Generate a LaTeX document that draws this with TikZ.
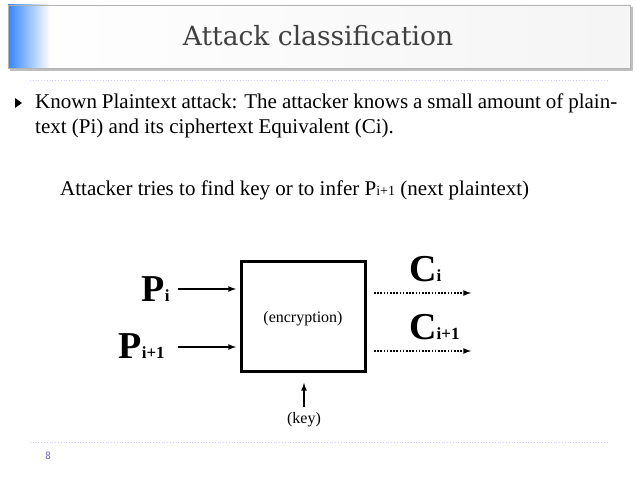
\documentclass[tikz,border=0pt]{standalone}
\usepackage{fontspec}
\setmainfont{Liberation Serif}
\newfontfamily\ttlfont{DejaVu Serif}
\begin{document}
\begin{tikzpicture}[x=1pt,y=-1pt,
  big/.style={font=\fontsize{38}{38}\selectfont\bfseries,inner sep=0},
  body/.style={font=\fontsize{21}{25}\selectfont,anchor=base west,inner sep=0},
  arr/.style={-latex,line width=1.6pt},
  darr/.style={-latex,line width=1.6pt,dash pattern=on 1.6pt off 1.6pt}]
\useasboundingbox (0,0) rectangle (638,478);
\fill[black!25] (10,7) rectangle (633,71);
\shade[left color=white,right color=black!4] (8,5) rectangle (630,68);
\shade[left color=blue!60!cyan!80,right color=white] (8,5) rectangle (50,68);
\draw[black!30] (8,5) rectangle (630,68);
\node[font=\ttlfont\fontsize{26.5}{27}\selectfont,text=black!75] (title) at (318,36) {Attack classification};
\draw[blue!20,dotted,line width=0.8pt] (30,80) -- (608,80);
\draw[blue!20,dotted,line width=0.8pt] (30,442) -- (608,442);
\node[text=blue!40!gray,font=\sffamily\fontsize{11}{11}\selectfont] (pg) at (48,456) {8};
\fill[black] (15,98) -- (22,103) -- (15,108) -- cycle;
\node[body,text width=582pt,align=justify] (t1) at (35,109) {Known Plaintext attack: The attacker knows a small amount of plaintext (Pi) and its ciphertext Equivalent (Ci).};
\node[body] (t3) at (60,196) {Attacker tries to find key or to infer P{\fontsize{14}{14}\selectfont i+1} (next plaintext)};
\node[draw,line width=3pt,minimum width=124pt,minimum height=110pt] (enc) at (303,317) {};
\node[font=\fontsize{16}{16}\selectfont] (et) at (303,319) {(encryption)};
\node[big,anchor=base east] (p1) at (165,302) {P\rlap{\fontsize{17}{17}\selectfont i}};
\node[big,anchor=base east] (p2) at (142,359) {P\rlap{\fontsize{17}{17}\selectfont i+1}};
\coordinate (p1s) at (178,289); \coordinate (p1e) at (236,289);
\coordinate (p2s) at (178,347); \coordinate (p2e) at (236,347);
\draw[arr] (p1s) -- (p1e);
\draw[arr] (p2s) -- (p2e);
\node[big,anchor=base west] (c1) at (409,282) {C\rlap{\fontsize{17}{17}\selectfont i}};
\node[big,anchor=base west] (c2) at (409,340) {C\rlap{\fontsize{17}{17}\selectfont i+1}};
\coordinate (c1s) at (374,293); \coordinate (c1e) at (471,293);
\coordinate (c2s) at (374,351); \coordinate (c2e) at (471,351);
\draw[darr] (c1s) -- (c1e);
\draw[darr] (c2s) -- (c2e);
\node[font=\fontsize{16}{16}\selectfont] (key) at (304,420) {(key)};
\coordinate (ks) at (304,407); \coordinate (ke) at (304,383);
\draw[arr] (ks) -- (ke);
\end{tikzpicture}
\end{document}
